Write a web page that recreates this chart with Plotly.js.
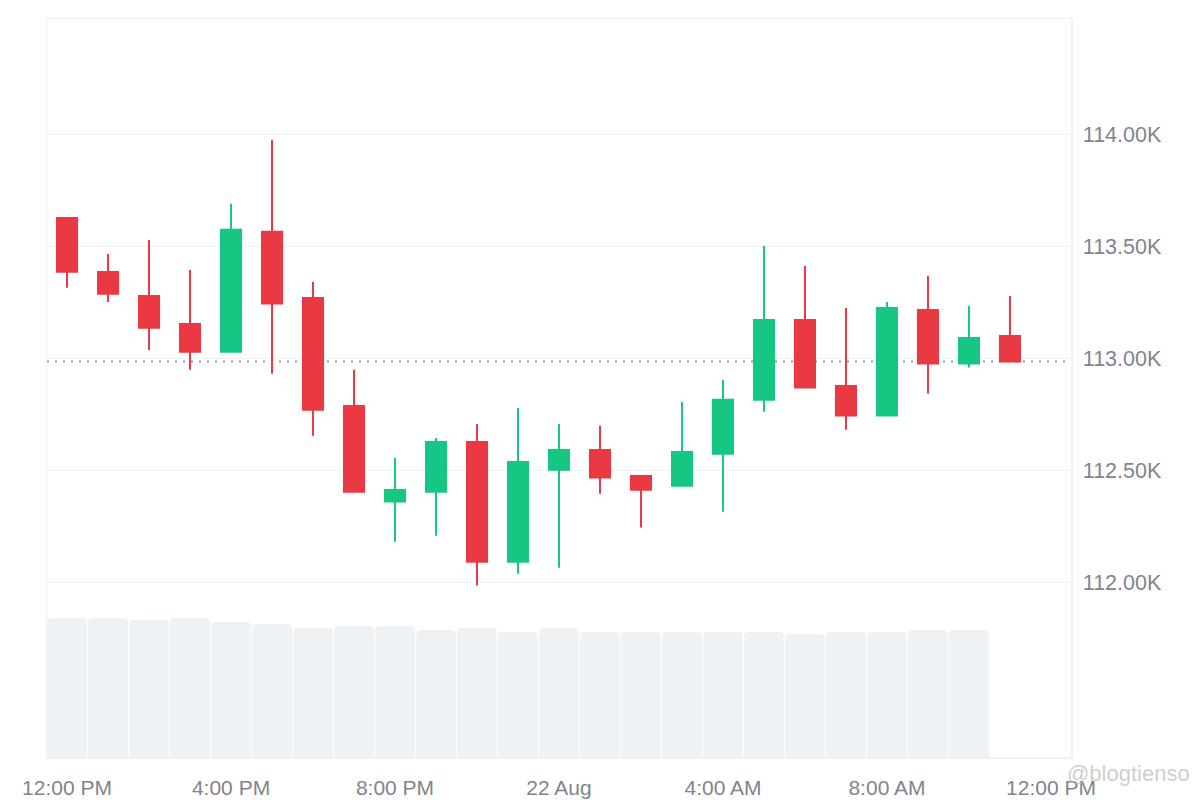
<!DOCTYPE html>
<html>
<head>
<meta charset="utf-8">
<script src="https://cdn.plot.ly/plotly-3.0.1.min.js"></script>
<style>
html,body{margin:0;padding:0;background:#fff;}
#chart{width:1200px;height:800px;}
</style>
</head>
<body>
<div id="chart"></div>
<script>
// Hourly candles, 21 Aug 12:00 PM -> 22 Aug 11:00 AM
var times = [
  '2025-08-21 12:00','2025-08-21 13:00','2025-08-21 14:00','2025-08-21 15:00',
  '2025-08-21 16:00','2025-08-21 17:00','2025-08-21 18:00','2025-08-21 19:00',
  '2025-08-21 20:00','2025-08-21 21:00','2025-08-21 22:00','2025-08-21 23:00',
  '2025-08-22 00:00','2025-08-22 01:00','2025-08-22 02:00','2025-08-22 03:00',
  '2025-08-22 04:00','2025-08-22 05:00','2025-08-22 06:00','2025-08-22 07:00',
  '2025-08-22 08:00','2025-08-22 09:00','2025-08-22 10:00','2025-08-22 11:00'
];
var opens  = [113628,113387,113280,113155,113031,113566,113271,112789,112362,112406,112628,112094,
              112504,112592,112476,112433,112576,112817,113173,112878,112746,113217,112978,113101];
var highs  = [113632,113467,113530,113396,113691,113976,113342,112950,112557,112646,112708,112780,
              112708,112700,112478,112807,112905,113503,113414,113226,113253,113369,113235,113280];
var lows   = [113317,113253,113039,112951,113030,112933,112656,112405,112183,112210,111987,112040,
              112067,112397,112246,112432,112317,112763,112870,112683,112745,112844,112960,112986];
var closes = [113388,113290,113138,113031,113575,113246,112772,112406,112414,112628,112094,112539,
              112592,112469,112415,112583,112816,113173,112871,112746,113226,112978,113092,112987];
// Volume (one bar per completed hour)
var volTimes = times.slice(0, 23);
var volumes = [1390,1390,1370,1390,1350,1330,1290,1310,1310,1270,1290,1250,
               1290,1250,1250,1250,1250,1250,1230,1250,1250,1270,1270];

var priceTicks = [112000,112500,113000,113500,114000];
var priceTickText = ['112.00K','112.50K','113.00K','113.50K','114.00K'];
var timeTicks = ['2025-08-21 12:00','2025-08-21 16:00','2025-08-21 20:00','2025-08-22 00:00',
                 '2025-08-22 04:00','2025-08-22 08:00','2025-08-22 12:00'];
var timeTickText = ['12:00 PM','4:00 PM','8:00 PM','22 Aug','4:00 AM','8:00 AM','12:00 PM'];
var lastPrice = closes[closes.length - 1];

var GREEN = '#16c784', RED = '#ea3943', GRID = '#eff2f5', TXT = '#7f848d';

var volTrace = {
  type: 'bar', x: volTimes, y: volumes, yaxis: 'y',
  marker: {color: '#eff2f5', cornerradius: 4},
  hoverinfo: 'skip', showlegend: false
};
var candle = {
  type: 'candlestick', x: times, open: opens, high: highs, low: lows, close: closes,
  yaxis: 'y2',
  increasing: {line: {color: GREEN, width: 2}, fillcolor: GREEN},
  decreasing: {line: {color: RED, width: 2}, fillcolor: RED},
  whiskerwidth: 0, showlegend: false
};

var layout = {
  width: 1200, height: 800,
  margin: {l: 47, r: 129, t: 19, b: 43},
  paper_bgcolor: '#ffffff', plot_bgcolor: '#ffffff',
  font: {family: 'Liberation Sans, Arial, sans-serif', color: TXT, size: 21},
  showlegend: false,
  bargap: 0.03,
  xaxis: {
    type: 'date',
    range: ['2025-08-21 11:30:40', '2025-08-22 12:29:20'],
    tickvals: timeTicks, ticktext: timeTickText,
    showgrid: false, zeroline: false,
    showline: true, linecolor: GRID, linewidth: 1.5, mirror: true,
    ticks: '', ticklabelstandoff: 11,
    tickfont: {size: 21, color: TXT},
    rangeslider: {visible: false}, fixedrange: true
  },
  yaxis: {
    range: [0, 7380],
    showgrid: false, zeroline: false, showticklabels: false,
    showline: true, linecolor: GRID, linewidth: 1.5, ticks: ''
  },
  yaxis2: {
    overlaying: 'y', side: 'right',
    range: [111222, 114516],
    tickvals: priceTicks, ticktext: priceTickText,
    showgrid: true, gridcolor: GRID, gridwidth: 1.5, zeroline: false,
    showline: true, linecolor: GRID, linewidth: 1.5, ticks: '',
    ticklabelstandoff: 6,
    tickfont: {size: 21.5, color: TXT}
  },
  shapes: [{
    type: 'line', xref: 'paper', x0: 0, x1: 1, yref: 'y2', y0: lastPrice, y1: lastPrice,
    line: {color: '#999ca3', width: 2, dash: '2px,6px'}, layer: 'below'
  }],
  annotations: [{
    xref: 'paper', yref: 'paper', x: 1.056, y: -0.022, xanchor: 'center', yanchor: 'middle',
    text: '@blogtienso', showarrow: false,
    font: {size: 22, color: 'rgba(190,190,190,0.75)', family: 'Liberation Sans, Arial, sans-serif'}
  }]
};

Plotly.newPlot('chart', [volTrace, candle], layout, {displayModeBar: false, staticPlot: true});
</script>
</body>
</html>
